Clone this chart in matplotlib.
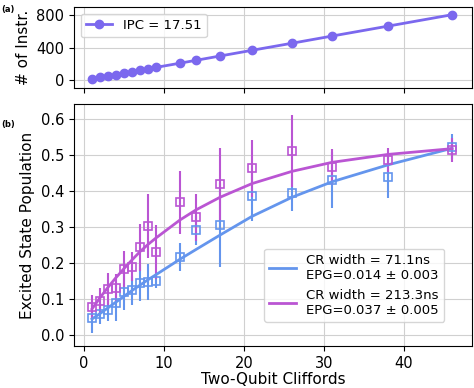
import matplotlib.pyplot as plt
import numpy as np

# Panel (a): jumlah instruksi
cliffords = [1, 2, 3, 4, 5, 6, 7, 8, 9, 12, 14, 17, 21, 26, 31, 38, 46]
n_instr = [18, 35, 53, 70, 88, 105, 123, 140, 158, 210, 245, 298, 368, 455, 543, 665, 805]

# Panel (b): populasi keadaan tereksitasi
pop_71 = [0.048, 0.060, 0.070, 0.090, 0.120, 0.125, 0.144, 0.148, 0.151, 0.217, 0.291, 0.305,
          0.386, 0.394, 0.430, 0.438, 0.523]
err_71 = [0.042, 0.030, 0.030, 0.050, 0.050, 0.040, 0.050, 0.050, 0.020, 0.040, 0.040, 0.117,
          0.070, 0.050, 0.078, 0.056, 0.035]
fit_71 = [0.045, 0.060, 0.076, 0.092, 0.108, 0.124, 0.139, 0.154, 0.168, 0.211, 0.238, 0.278,
          0.330, 0.383, 0.426, 0.473, 0.519]

pop_213 = [0.077, 0.095, 0.127, 0.130, 0.185, 0.190, 0.244, 0.303, 0.231, 0.369, 0.327, 0.419,
           0.463, 0.512, 0.466, 0.486, 0.514]
err_213 = [0.034, 0.035, 0.046, 0.040, 0.050, 0.040, 0.066, 0.090, 0.075, 0.087, 0.065, 0.100,
           0.080, 0.100, 0.050, 0.034, 0.033]
fit_213 = [0.073, 0.104, 0.133, 0.160, 0.185, 0.209, 0.232, 0.252, 0.270, 0.320, 0.348, 0.383,
           0.421, 0.455, 0.480, 0.502, 0.518]

warna_a = '#7b68ee'
warna_71 = '#6495ed'
warna_213 = '#ba55d3'

fig = plt.figure(figsize=(4.74, 3.88), dpi=100)
ax1 = fig.add_axes([74 / 474, 1 - 88 / 388, 398 / 474, 81 / 388])
ax2 = fig.add_axes([74 / 474, 1 - 346 / 388, 398 / 474, 242 / 388], sharex=ax1)

ax1.plot(cliffords, n_instr, marker='o', color=warna_a, lw=2, ms=6, label='IPC = 17.51')
ax1.set_ylim(-95, 900)
ax1.set_yticks([0, 400, 800])
ax1.set_ylabel('# of Instr.', fontsize=11)
ax1.tick_params(labelsize=10.5)
ax1.tick_params(axis='x', labelbottom=False)
ax1.grid(True, color='#d0d0d0')
ax1.legend(loc='upper left', fontsize=9.5, handlelength=2)

ax2.errorbar(cliffords, pop_71, yerr=err_71, fmt='s', mfc='none', mec=warna_71, ecolor=warna_71,
             ms=6, elinewidth=1.5, mew=1.2)
ax2.errorbar(cliffords, pop_213, yerr=err_213, fmt='s', mfc='none', mec=warna_213, ecolor=warna_213,
             ms=6, elinewidth=1.5, mew=1.2)
ax2.plot(cliffords, fit_71, color=warna_71, lw=2, label='CR width = 71.1ns\nEPG=0.014 ± 0.003')
ax2.plot(cliffords, fit_213, color=warna_213, lw=2, label='CR width = 213.3ns\nEPG=0.037 ± 0.005')
ax2.set_ylim(-0.03, 0.642)
ax2.set_xlim(-1.25, 48.5)
ax2.set_yticks([0.0, 0.1, 0.2, 0.3, 0.4, 0.5, 0.6])
ax2.set_xticks([0, 10, 20, 30, 40])
ax2.set_xlabel('Two-Qubit Cliffords', fontsize=11, labelpad=1)
ax2.set_ylabel('Excited State Population', fontsize=11)
ax2.tick_params(labelsize=10.5)
ax2.grid(True, color='#d0d0d0')
ax2.legend(loc='lower right', bbox_to_anchor=(0.93, 0.1), borderaxespad=0, fontsize=9.5)

fig.text(0.002, 1 - 12 / 388, '(a)', fontsize=6, fontweight='bold')
fig.text(0.002, 1 - 127 / 388, '(b)', fontsize=6, fontweight='bold')

plt.savefig('out.png', dpi=100)
plt.close()
